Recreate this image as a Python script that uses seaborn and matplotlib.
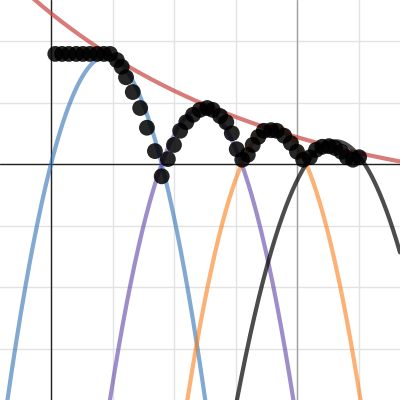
import numpy as np
import matplotlib
matplotlib.use("Agg")
import matplotlib.pyplot as plt
import seaborn as sns

sns.set_style("white")

# bounce arcs: (left root, right root, peak height)
arc_left = [0.0, 1.8, 3.1, 4.15]
arc_right = [1.8, 3.1, 4.15, 5.1]
arc_peak = [1.75, 0.9, 0.62, 0.37]
arc_colors = ["#2d70b3", "#6042a6", "#fa7e19", "#000000"]

# envelope a*exp(-k x) - c
env_a, env_k, env_c = 3.15, 0.255, 0.7

dot_x = [0.07, 0.18, 0.29, 0.41, 0.52, 0.63, 0.75, 0.86, 0.96,
         1.07, 1.15, 1.22, 1.33, 1.45, 1.56, 1.69, 1.80, 1.90, 2.00, 2.10,
         2.20, 2.31, 2.42, 2.54, 2.63, 2.75, 2.85, 2.94, 3.02, 3.11, 3.20,
         3.28, 3.37, 3.46, 3.58, 3.67, 3.79, 3.90, 4.00, 4.10, 4.21, 4.31,
         4.41, 4.52, 4.62, 4.72, 4.81, 4.91, 5.01]
dot_y = [1.79] * 9 + [1.69, 1.58, 1.41, 1.17, 0.91, 0.59, 0.21, -0.20, 0.08, 0.31,
         0.54, 0.68, 0.80, 0.88, 0.91, 0.88, 0.78, 0.68, 0.50, 0.24, 0.07,
         0.15, 0.31, 0.44, 0.54, 0.55, 0.54, 0.46, 0.34, 0.20, 0.07, 0.11,
         0.23, 0.28, 0.29, 0.26, 0.20, 0.11, 0.07, 0.11]

fig = plt.figure(figsize=(4, 4), dpi=100)
ax = fig.add_axes([0, 0, 1, 1])
x0, x1 = -51 / 61.5, 349 / 61.5
y0, y1 = -236 / 61.5, 164 / 61.5
ax.set_xlim(x0, x1)
ax.set_ylim(y0, y1)

for g in np.arange(-4, 7):
    ax.axvline(g, color="#e2e2e2", lw=1, zorder=0)
    ax.axhline(g, color="#e2e2e2", lw=1, zorder=0)
ax.axvline(4, color="#a0a0a0", lw=1, zorder=0.5)
ax.axhline(0, color="#222222", lw=1, zorder=0.6)
ax.axvline(0, color="#222222", lw=1, zorder=0.6)

xs = np.linspace(x0, x1, 600)
sns.lineplot(x=xs, y=env_a * np.exp(-env_k * xs) - env_c, color="#c74440", alpha=0.7, lw=3, ax=ax)
for l, r, p, c in zip(arc_left, arc_right, arc_peak, arc_colors):
    k = p / ((r - l) / 2) ** 2
    sns.lineplot(x=xs, y=-k * (xs - l) * (xs - r), color=c, alpha=0.6 if c != "#000000" else 0.7, lw=3, ax=ax)

sns.scatterplot(x=dot_x, y=dot_y, color="black", s=130, alpha=0.85, edgecolor="none", ax=ax, zorder=5)

ax.set_xticks([]); ax.set_yticks([])
for s in ax.spines.values():
    s.set_visible(False)
fig.savefig("out.png", dpi=100)
